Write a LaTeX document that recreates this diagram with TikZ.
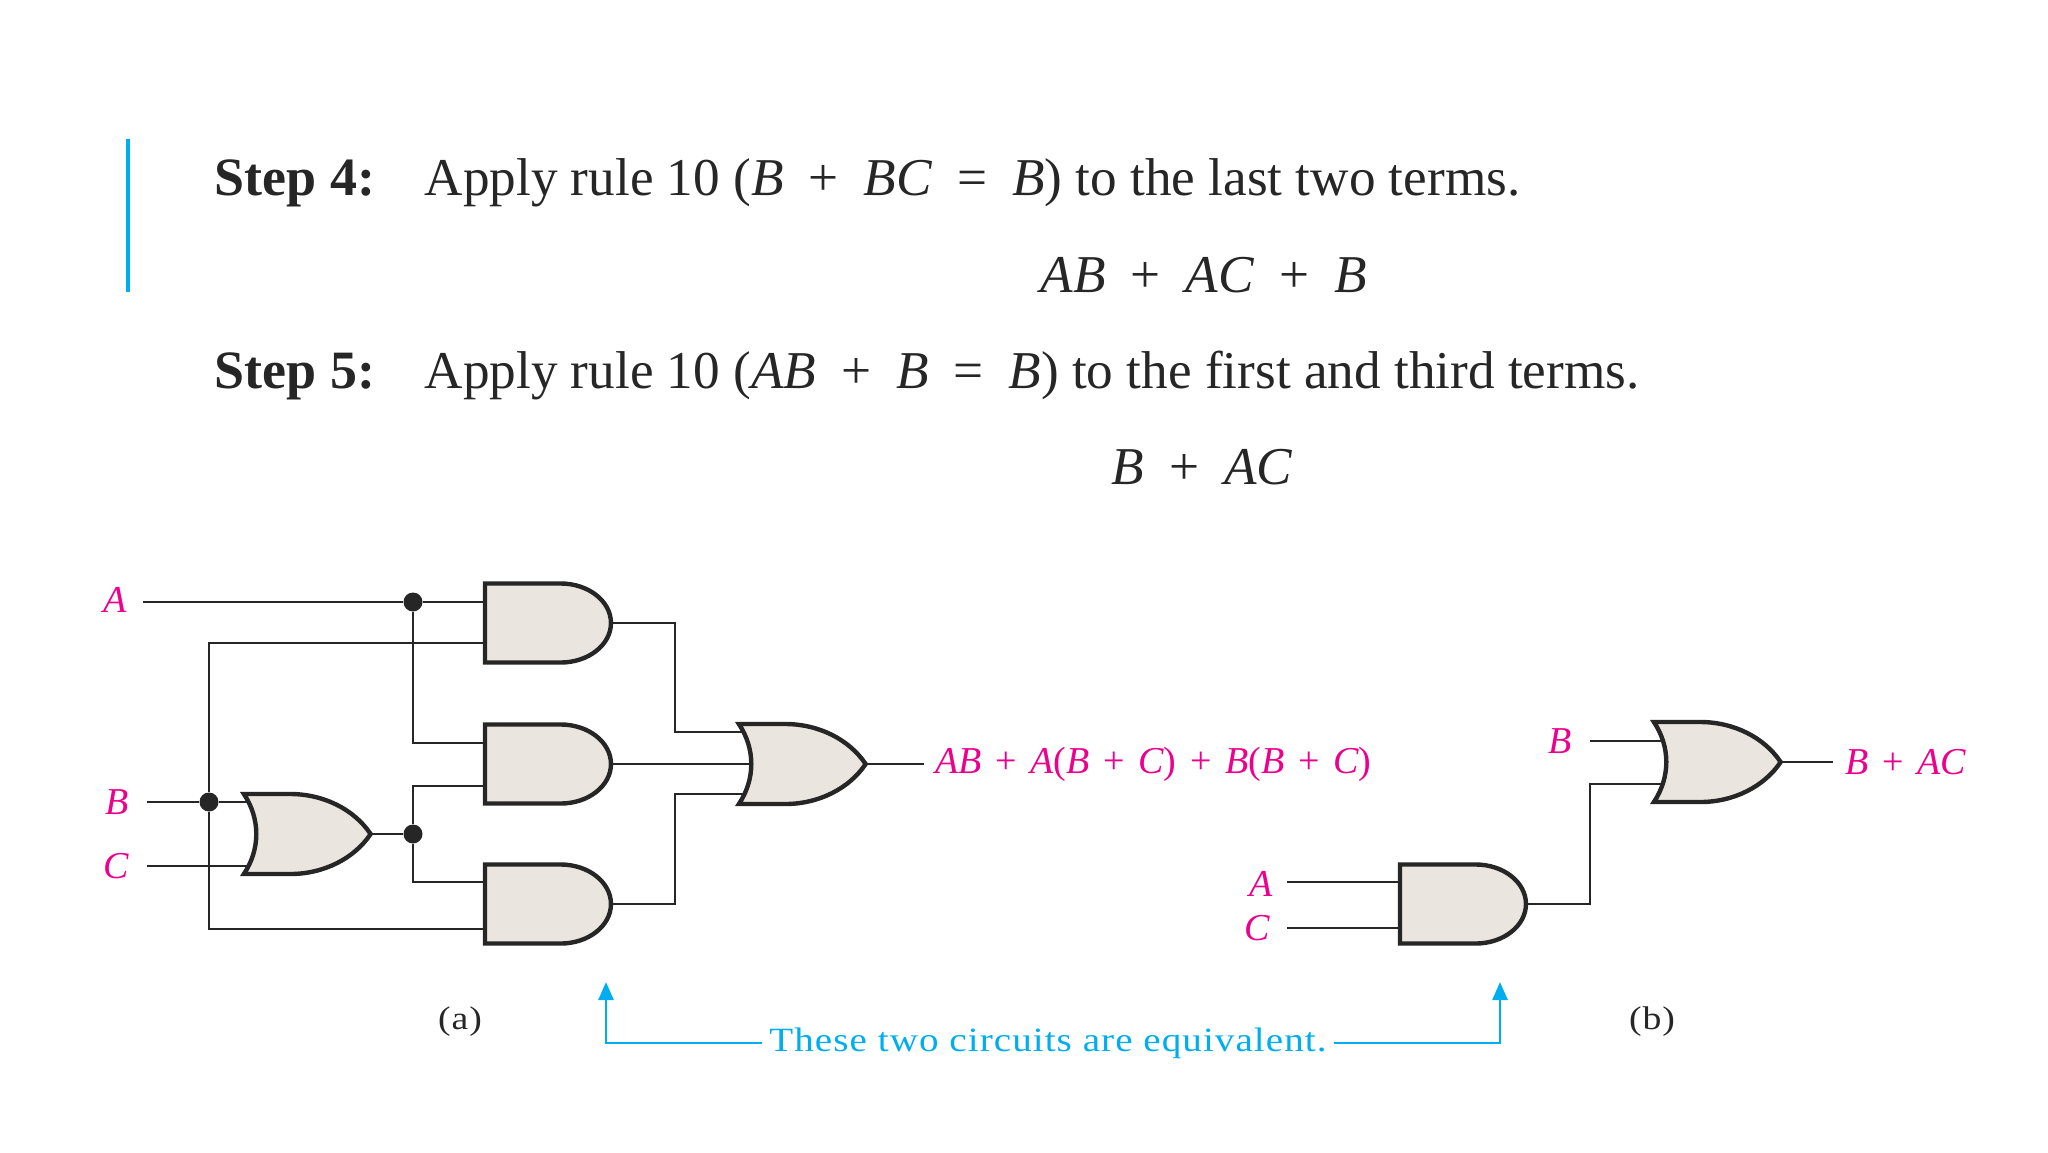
\documentclass[tikz,border=0pt]{standalone}
\usepackage{fontspec}
\setmainfont{Liberation Serif}
\newfontfamily\eqfont[FakeStretch=1.15,LetterSpace=3.1]{Liberation Serif}
\usetikzlibrary{arrows.meta,backgrounds,shapes.gates.logic.US}
\definecolor{gatefill}{HTML}{EAE6DF}
\definecolor{inkdark}{HTML}{262626}
\definecolor{pinklabel}{HTML}{EC008C}
\definecolor{bluenote}{HTML}{00AEEF}
\newcommand{\opgap}[1]{\hspace{.47em}#1\hspace{.47em}}
\newcommand{\labplus}{\upshape\hspace{.36em}+\hspace{.36em}\itshape}

\begin{document}
\begin{tikzpicture}[x=0.5pt,y=-0.5pt,semithick,
    andgate/.style={and gate US,draw=inkdark,fill=gatefill,line width=2.2pt,logic gate inputs=nn,
                    minimum width=49.4pt,minimum height=39.5pt,transform shape,xscale=1.275,
                    inner sep=0pt,outer sep=0pt,anchor=west},
    orgate/.style={or gate US,draw=inkdark,fill=gatefill,line width=2.2pt,logic gate inputs=nn,
                   minimum width=50pt,minimum height=40pt,transform shape,xscale=1.16,
                   inner sep=0pt,outer sep=0pt,anchor=center},
    wire/.style={draw=inkdark,line width=1.25pt},
    jdot/.style={circle,fill=inkdark,inner sep=0pt,minimum size=9.5pt},
    inlabel/.style={text=pinklabel,font=\fontsize{19}{22}\selectfont\itshape,inner sep=0pt},
    steptext/.style={text=inkdark,font=\fontsize{26.6}{30}\selectfont,inner sep=0pt,anchor=base west},
    stephead/.style={steptext,font=\fontsize{27}{30}\selectfont\bfseries},
    capt/.style={text=inkdark,font=\fontsize{16.4}{18}\selectfont\eqfont,inner sep=0pt},
    note/.style={draw=bluenote,line width=1.25pt,-{Triangle[length=9pt,width=7.5pt]}}]
  \useasboundingbox (0,0) rectangle (2048,1152);

  \draw[draw=bluenote,line width=1.6pt] (128,139) coordinate (bar1) -- (128,292) coordinate (bar2);

  \node[stephead] (s4) at (214,195) {Step 4:};
  \node[steptext] (t4) at (424,195) {Apply rule 10 (\textit{B}\opgap{+}\textit{BC}\opgap{=}\textit{B}) to the last two terms.};
  \node[steptext] (e4) at (1040,292) {\textit{AB}\opgap{+}\textit{AC}\opgap{+}\textit{B}};
  \node[stephead] (s5) at (214,388) {Step 5:};
  \node[steptext] (t5) at (424,388) {Apply rule 10 (\textit{AB}\opgap{+}\textit{B}\opgap{=}\textit{B}) to the first and third terms.};
  \node[steptext] (e5) at (1111,484) {\textit{B}\opgap{+}\textit{AC}};

  % circuit (a)
  \node[andgate] (and1) at (485,623) {};
  \node[andgate] (and2) at (485,764) {};
  \node[andgate] (and3) at (485,904) {};
  \node[orgate] (orS) at (298,834) {};
  \node[orgate] (orM) at (793,764) {};

  \node[inlabel] (la) at (115,600) {A};
  \node[inlabel] (lb) at (117,802) {B};
  \node[inlabel] (lc) at (116,866) {C};
  \coordinate (ina) at (143,602);
  \coordinate (inb) at (147,802);
  \coordinate (inc) at (147,866);
  \coordinate (busR) at (675,764);
  \coordinate (out) at (924,764);
  \node[jdot] (d1) at (413,602) {};
  \node[jdot] (d2) at (413,834) {};
  \node[jdot] (d3) at (209,802) {};

  % circuit (b)
  \node[orgate] (orB) at (1708,762) {};
  \node[andgate] (andB) at (1400,904) {};
  \node[inlabel] (lb2) at (1560,741) {B};
  \node[inlabel] (la2) at (1261,884) {A};
  \node[inlabel] (lc2) at (1257,928) {C};
  \coordinate (inb2) at (1590,741);
  \coordinate (ina2) at (1287,882);
  \coordinate (inc2) at (1287,928);
  \coordinate (up) at (1590,784);
  \coordinate (out2) at (1833,762);

  \begin{pgfonlayer}{background}
    \draw[wire] (ina) -- (d1) -- (and1.west |- d1);
    \draw[wire] (d1) |- ([yshift=10.5pt]and2.west);
    \draw[wire] (inb) -- (d3) -- (orS.west |- d3);
    \draw[wire] (inc) -- (orS.west |- inc);
    \draw[wire] (d3) |- ([yshift=-10pt]and1.west);
    \draw[wire] (d3) |- ([yshift=-12.5pt]and3.west);
    \draw[wire] (orS.output) -- (d2);
    \draw[wire] (d2) |- ([yshift=-11pt]and2.west);
    \draw[wire] (d2) |- ([yshift=11pt]and3.west);
    \draw[wire] (and1.east) -- (and1.east -| busR) |- ([yshift=16pt]orM.west);
    \draw[wire] (and2.east) -- (orM.west);
    \draw[wire] (and3.east) -- (and3.east -| busR) |- ([yshift=-15pt]orM.west);
    \draw[wire] (orM.output) -- (out);

    \draw[wire] (inb2) -- (orB.west |- inb2);
    \draw[wire] (andB.east) -| (up) -- (orB.west |- up);
    \draw[wire] (ina2) -- (andB.west |- ina2);
    \draw[wire] (inc2) -- (andB.west |- inc2);
    \draw[wire] (orB.output) -- (out2);
  \end{pgfonlayer}

  \node[inlabel,anchor=west] (f1) at (935,764) {AB\labplus A\upshape(\itshape B\labplus C\upshape)\labplus B\upshape(\itshape B\labplus C\upshape)};
  \node[capt] (capa) at (460,1022) {(a)};
  \node[inlabel,anchor=west] (f2) at (1845,762) {B\labplus AC};
  \node[capt] (capb) at (1652,1022) {(b)};

  % the two arrows
  \node[text=bluenote,font=\fontsize{17}{20}\selectfont\eqfont,inner sep=3.5pt] (eq) at (1048,1043) {These two circuits are equivalent.};
  \coordinate (tipa) at (606,982);
  \coordinate (tipb) at (1500,982);
  \draw[note] (eq.west) -| (tipa);
  \draw[note] (eq.east) -| (tipb);
\end{tikzpicture}
\end{document}
